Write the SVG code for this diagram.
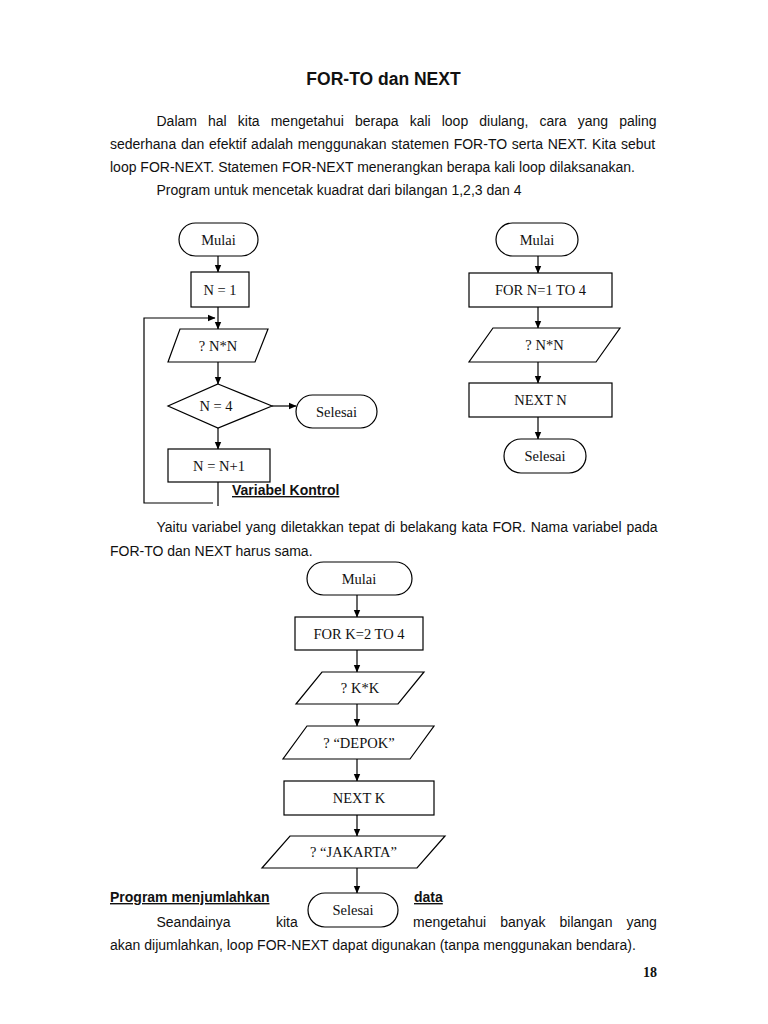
<svg xmlns="http://www.w3.org/2000/svg" width="768" height="1024" viewBox="0 0 768 1024">
<defs>
<marker id="ah" markerWidth="8" markerHeight="8" refX="7" refY="4" orient="auto" markerUnits="userSpaceOnUse">
<path d="M0,0.8 L7.5,4 L0,7.2 Z" fill="#000"/>
</marker>
<style>
.body{font-family:"Liberation Sans",Arial,sans-serif;font-size:14px;fill:#111}
.bold{font-weight:bold}
.ul{text-decoration:underline}
.n{font-family:"Liberation Serif","Times New Roman",serif;font-size:14.5px;fill:#111;text-anchor:middle}
.shape{fill:#fff;stroke:#000;stroke-width:1.2}
.conn{fill:none;stroke:#000;stroke-width:1.2}
</style>
</defs>
<rect width="768" height="1024" fill="#fff"/>

<g id="text">
<text x="383.5" y="85" class="body bold" style="font-size:17.5px" text-anchor="middle">FOR-TO dan NEXT</text>
<text x="156.5" y="126" class="body" word-spacing="7.2">Dalam hal kita mengetahui berapa kali loop diulang, cara yang paling</text>
<text x="110" y="149" class="body" word-spacing="0.85">sederhana dan efektif adalah menggunakan statemen FOR-TO serta NEXT. Kita sebut</text>
<text x="110" y="172" class="body">loop FOR-NEXT. Statemen FOR-NEXT menerangkan berapa kali loop dilaksanakan.</text>
<text x="156.5" y="195" class="body">Program untuk mencetak kuadrat dari bilangan 1,2,3 dan 4</text>
<text x="232" y="495" class="body bold ul">Variabel Kontrol</text>
<text x="156.5" y="532" class="body" word-spacing="0.79">Yaitu variabel yang diletakkan tepat di belakang kata FOR. Nama variabel pada</text>
<text x="110" y="556" class="body">FOR-TO dan NEXT harus sama.</text>
<text x="110" y="902" class="body bold ul">Program menjumlahkan</text>
<text x="414" y="902" class="body bold ul">data</text>
<text x="156.5" y="927" class="body">Seandainya</text>
<text x="276" y="927" class="body">kita</text>
<text x="413" y="927" class="body">mengetahui</text>
<text x="500.3" y="927" class="body">banyak</text>
<text x="559.5" y="927" class="body">bilangan</text>
<text x="626.5" y="927" class="body">yang</text>
<text x="110" y="950" class="body">akan dijumlahkan, loop FOR-NEXT dapat digunakan (tanpa menggunakan bendara).</text>
<text x="657" y="977" text-anchor="end" style="font-family:'Liberation Serif','Times New Roman',serif;font-size:14px;font-weight:bold;fill:#111">18</text>
</g>

<g id="connectors">
<line class="conn" x1="218" y1="256" x2="218" y2="272" marker-end="url(#ah)"/>
<line class="conn" x1="218" y1="307" x2="218" y2="329" marker-end="url(#ah)"/>
<polyline class="conn" points="213,503 144,503 144,318 215,318" marker-end="url(#ah)"/>
<line class="conn" x1="218" y1="362" x2="218" y2="384" marker-end="url(#ah)"/>
<line class="conn" x1="272" y1="406" x2="296" y2="406" marker-end="url(#ah)"/>
<line class="conn" x1="218" y1="428" x2="218" y2="449" marker-end="url(#ah)"/>
<line class="conn" x1="218" y1="482" x2="218" y2="506"/>

<line class="conn" x1="538" y1="256" x2="538" y2="273" marker-end="url(#ah)"/>
<line class="conn" x1="538" y1="307" x2="538" y2="328" marker-end="url(#ah)"/>
<line class="conn" x1="538" y1="362" x2="538" y2="383" marker-end="url(#ah)"/>
<line class="conn" x1="538" y1="417" x2="538" y2="439" marker-end="url(#ah)"/>

<line class="conn" x1="357" y1="595" x2="357" y2="617" marker-end="url(#ah)"/>
<line class="conn" x1="357" y1="650" x2="357" y2="672" marker-end="url(#ah)"/>
<line class="conn" x1="357" y1="704" x2="357" y2="726" marker-end="url(#ah)"/>
<line class="conn" x1="357" y1="759" x2="357" y2="781" marker-end="url(#ah)"/>
<line class="conn" x1="357" y1="815" x2="357" y2="836" marker-end="url(#ah)"/>
<line class="conn" x1="357" y1="868" x2="357" y2="893" marker-end="url(#ah)"/>
</g>

<g id="l-mulai"><rect class="shape" x="179" y="223" width="79" height="33" rx="16.5"/><text class="n" x="218.5" y="244.5">Mulai</text></g>
<g id="l-n1"><rect class="shape" x="191" y="272" width="58" height="35"/><text class="n" x="220" y="294.5">N = 1</text></g>
<g id="l-out"><polygon class="shape" points="180,329 268,329 255,362 168,362"/><text class="n" x="218" y="350.5">? N*N</text></g>
<g id="l-dec"><polygon class="shape" points="218,384 272,406 218,428 168,406"/><text class="n" x="216" y="411">N = 4</text></g>
<g id="l-selesai"><rect class="shape" x="296" y="395" width="81" height="33" rx="16.5"/><text class="n" x="336.5" y="416.5">Selesai</text></g>
<g id="l-inc"><rect class="shape" x="168" y="449" width="102" height="33"/><text class="n" x="219" y="470.5">N = N+1</text></g>

<g id="r-mulai"><rect class="shape" x="496" y="223" width="82" height="33" rx="16.5"/><text class="n" x="537" y="244.5">Mulai</text></g>
<g id="r-for"><rect class="shape" x="469" y="273" width="143" height="34"/><text class="n" x="540.5" y="295">FOR N=1 TO 4</text></g>
<g id="r-out"><polygon class="shape" points="493,328 620,328 596,362 469,362"/><text class="n" x="544.5" y="350">? N*N</text></g>
<g id="r-next"><rect class="shape" x="469" y="383" width="143" height="34"/><text class="n" x="540.5" y="405">NEXT N</text></g>
<g id="r-selesai"><rect class="shape" x="504" y="439" width="82" height="34" rx="17"/><text class="n" x="545" y="461">Selesai</text></g>

<g id="b-mulai"><rect class="shape" x="307" y="562" width="105" height="33" rx="16.5"/><text class="n" x="359" y="583.5">Mulai</text></g>
<g id="b-for"><rect class="shape" x="295" y="617" width="128" height="33"/><text class="n" x="359" y="638.5">FOR K=2 TO 4</text></g>
<g id="b-out1"><polygon class="shape" points="322,672 424,672 398,704 296,704"/><text class="n" x="360" y="693">? K*K</text></g>
<g id="b-out2"><polygon class="shape" points="307,726 434,726 410,759 283,759"/><text class="n" x="359" y="747.5">? “DEPOK”</text></g>
<g id="b-next"><rect class="shape" x="284" y="781" width="150" height="34"/><text class="n" x="359" y="803">NEXT K</text></g>
<g id="b-out3"><polygon class="shape" points="290,836 445,836 417,868 262,868"/><text class="n" x="353.5" y="857">? “JAKARTA”</text></g>
<g id="b-selesai"><rect class="shape" x="308" y="893" width="90" height="34" rx="17"/><text class="n" x="353" y="915">Selesai</text></g>
</svg>
